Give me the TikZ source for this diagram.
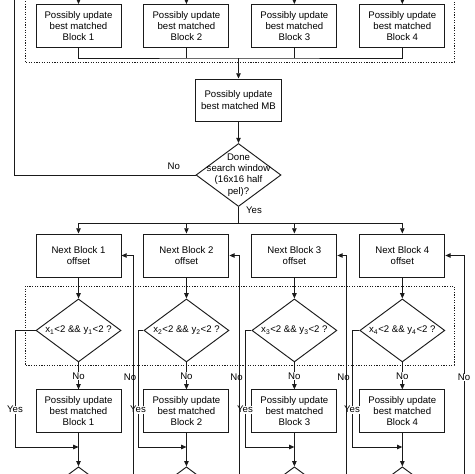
\documentclass[tikz,border=0pt]{standalone}
\usepackage{fontspec}
\setmainfont{Liberation Sans}
\usepackage{xcolor}
\definecolor{cInk}{HTML}{1A1A1A}
\usepackage{tikz}
\usetikzlibrary{positioning,arrows.meta,shapes.geometric}
\tikzset{
  node-box/.style={draw=cInk,line width=0.8pt,minimum width=2.55cm,
    minimum height=1.29cm,inner sep=1pt,align=center},
  node-dec/.style={draw=cInk,line width=0.8pt,diamond,minimum width=2.55cm,
    minimum height=1.89cm,inner sep=0pt},
  frame-dotted/.style={draw=cInk,line width=0.7pt,dash pattern=on 1pt off 1.2pt},
  arrow/.style={-{Triangle[length=4.5pt,width=3.8pt]},line width=0.8pt,draw=cInk},
  link/.style={line width=0.8pt,draw=cInk},
  lbl-white/.style={fill=white,inner sep=0.5pt},
}

\begin{document}
\begin{tikzpicture}[x=0.03cm,y=-0.03cm,node distance=6.3mm and 6.6mm,
    every node/.append style={font=\fontsize{8.2}{9.5}\selectfont}]
  \useasboundingbox (0,0) rectangle (474,474);
  \clip (0,0) rectangle (474,474);

  % upper stage: update per block, then per macroblock
  \node[node-box]               (b1) at (78.5,26) {Possibly update\\best matched\\Block 1};
  \node[node-box,right=of b1]   (b2) {Possibly update\\best matched\\Block 2};
  \node[node-box,right=of b2]   (b3) {Possibly update\\best matched\\Block 3};
  \node[node-box,right=of b3]   (b4) {Possibly update\\best matched\\Block 4};
  \node[node-box,minimum width=2.58cm,minimum height=1.26cm] (mb) at (238.5,100)
    {Possibly update\\best matched MB};
  \node[node-dec,label={[align=center]center:{Done\\search window\\(16x16 half\\pel)?}}]
    (md) at (238.5,175) {};
  \draw[frame-dotted] (25,-40) rectangle (454,62);

  % lower stage: one column per block
  \node[node-box]               (n1) at (78.5,255.5) {Next Block 1\\offset};
  \node[node-box,right=of n1]   (n2) {Next Block 2\\offset};
  \node[node-box,right=of n2]   (n3) {Next Block 3\\offset};
  \node[node-box,right=of n3]   (n4) {Next Block 4\\offset};
  \node[node-dec,below=of n1,label={center:{x\textsubscript{1}<2 \&\& y\textsubscript{1}<2 ?}}] (q1) {};
  \node[node-dec,below=of n2,label={center:{x\textsubscript{2}<2 \&\& y\textsubscript{2}<2 ?}}] (q2) {};
  \node[node-dec,below=of n3,label={center:{x\textsubscript{3}<2 \&\& y\textsubscript{3}<2 ?}}] (q3) {};
  \node[node-dec,below=of n4,label={center:{x\textsubscript{4}<2 \&\& y\textsubscript{4}<2 ?}}] (q4) {};
  \node[node-box,below=8.1mm of q1] (u1) {Possibly update\\best matched\\Block 1};
  \node[node-box,below=8.1mm of q2] (u2) {Possibly update\\best matched\\Block 2};
  \node[node-box,below=8.1mm of q3] (u3) {Possibly update\\best matched\\Block 3};
  \node[node-box,below=8.1mm of q4] (u4) {Possibly update\\best matched\\Block 4};
  \node[node-dec,below=9.9mm of u1] (e1) {};
  \node[node-dec,below=9.9mm of u2] (e2) {};
  \node[node-dec,below=9.9mm of u3] (e3) {};
  \node[node-dec,below=9.9mm of u4] (e4) {};
  \draw[frame-dotted] (25,286) rectangle (454,365);

  \coordinate (merge) at (238.5,58);
  \coordinate (split) at (238.5,223);
  \coordinate (loop-top) at (14,-20);
  \coordinate (yes1) at (15,447);
  \coordinate (yes2) at (138,447);
  \coordinate (yes3) at (245,447);
  \coordinate (yes4) at (352,447);
  \coordinate (back1) at (133,490);
  \coordinate (back2) at (239.5,490);
  \coordinate (back3) at (346.5,490);
  \coordinate (back4) at (464,490);

  % upper connectors
  \draw[arrow] ([yshift=6mm]b1.north) -- (b1);
  \draw[arrow] ([yshift=6mm]b2.north) -- (b2);
  \draw[arrow] ([yshift=6mm]b3.north) -- (b3);
  \draw[arrow] ([yshift=6mm]b4.north) -- (b4);
  \draw[link] (b1.south) |- (merge) -| (b4.south);
  \draw[link] (b2.south) -- (b2.south |- merge);
  \draw[link] (b3.south) -- (b3.south |- merge);
  \draw[arrow] (merge) -- (mb);
  \draw[arrow] (mb) -- (md);
  \draw[link] (md.west) -| node[pos=0.06,above,yshift=1pt] {No} (loop-top);
  \draw[link] (md.south) -- node[right,pos=0.2,xshift=1mm] {Yes} (split);
  \draw[arrow] (split) -| (n1.north);
  \draw[arrow] (split) -| (n2.north);
  \draw[arrow] (split) -| (n3.north);
  \draw[arrow] (split) -| (n4.north);

  % column connectors
  \draw[arrow] (n1) -- (q1);
  \draw[arrow] (n2) -- (q2);
  \draw[arrow] (n3) -- (q3);
  \draw[arrow] (n4) -- (q4);
  \draw[arrow] (q1) -- node[lbl-white] {No} (u1);
  \draw[arrow] (q2) -- node[lbl-white] {No} (u2);
  \draw[arrow] (q3) -- node[lbl-white] {No} (u3);
  \draw[arrow] (q4) -- node[lbl-white] {No} (u4);
  \draw[arrow] (u1) -- (e1);
  \draw[arrow] (u2) -- (e2);
  \draw[arrow] (u3) -- (e3);
  \draw[arrow] (u4) -- (e4);
  \draw[arrow] (q1.west) -| node[pos=0.84,lbl-white] {Yes} (yes1) -- (u1.south |- yes1);
  \draw[arrow] (q2.west) -| node[pos=0.84,lbl-white] {Yes} (yes2) -- (u2.south |- yes2);
  \draw[arrow] (q3.west) -| node[pos=0.84,lbl-white] {Yes} (yes3) -- (u3.south |- yes3);
  \draw[arrow] (q4.west) -| node[pos=0.84,lbl-white] {Yes} (yes4) -- (u4.south |- yes4);

  % back to next offset
  \draw[arrow] (back1) |- node[pos=0.24,xshift=-2.5pt] {No} (n1.east);
  \draw[arrow] (back2) |- node[pos=0.24,xshift=-2.5pt] {No} (n2.east);
  \draw[arrow] (back3) |- node[pos=0.24,xshift=-2.5pt] {No} (n3.east);
  \draw[arrow] (back4) |- node[pos=0.24,lbl-white] {No} (n4.east);
\end{tikzpicture}
\end{document}
